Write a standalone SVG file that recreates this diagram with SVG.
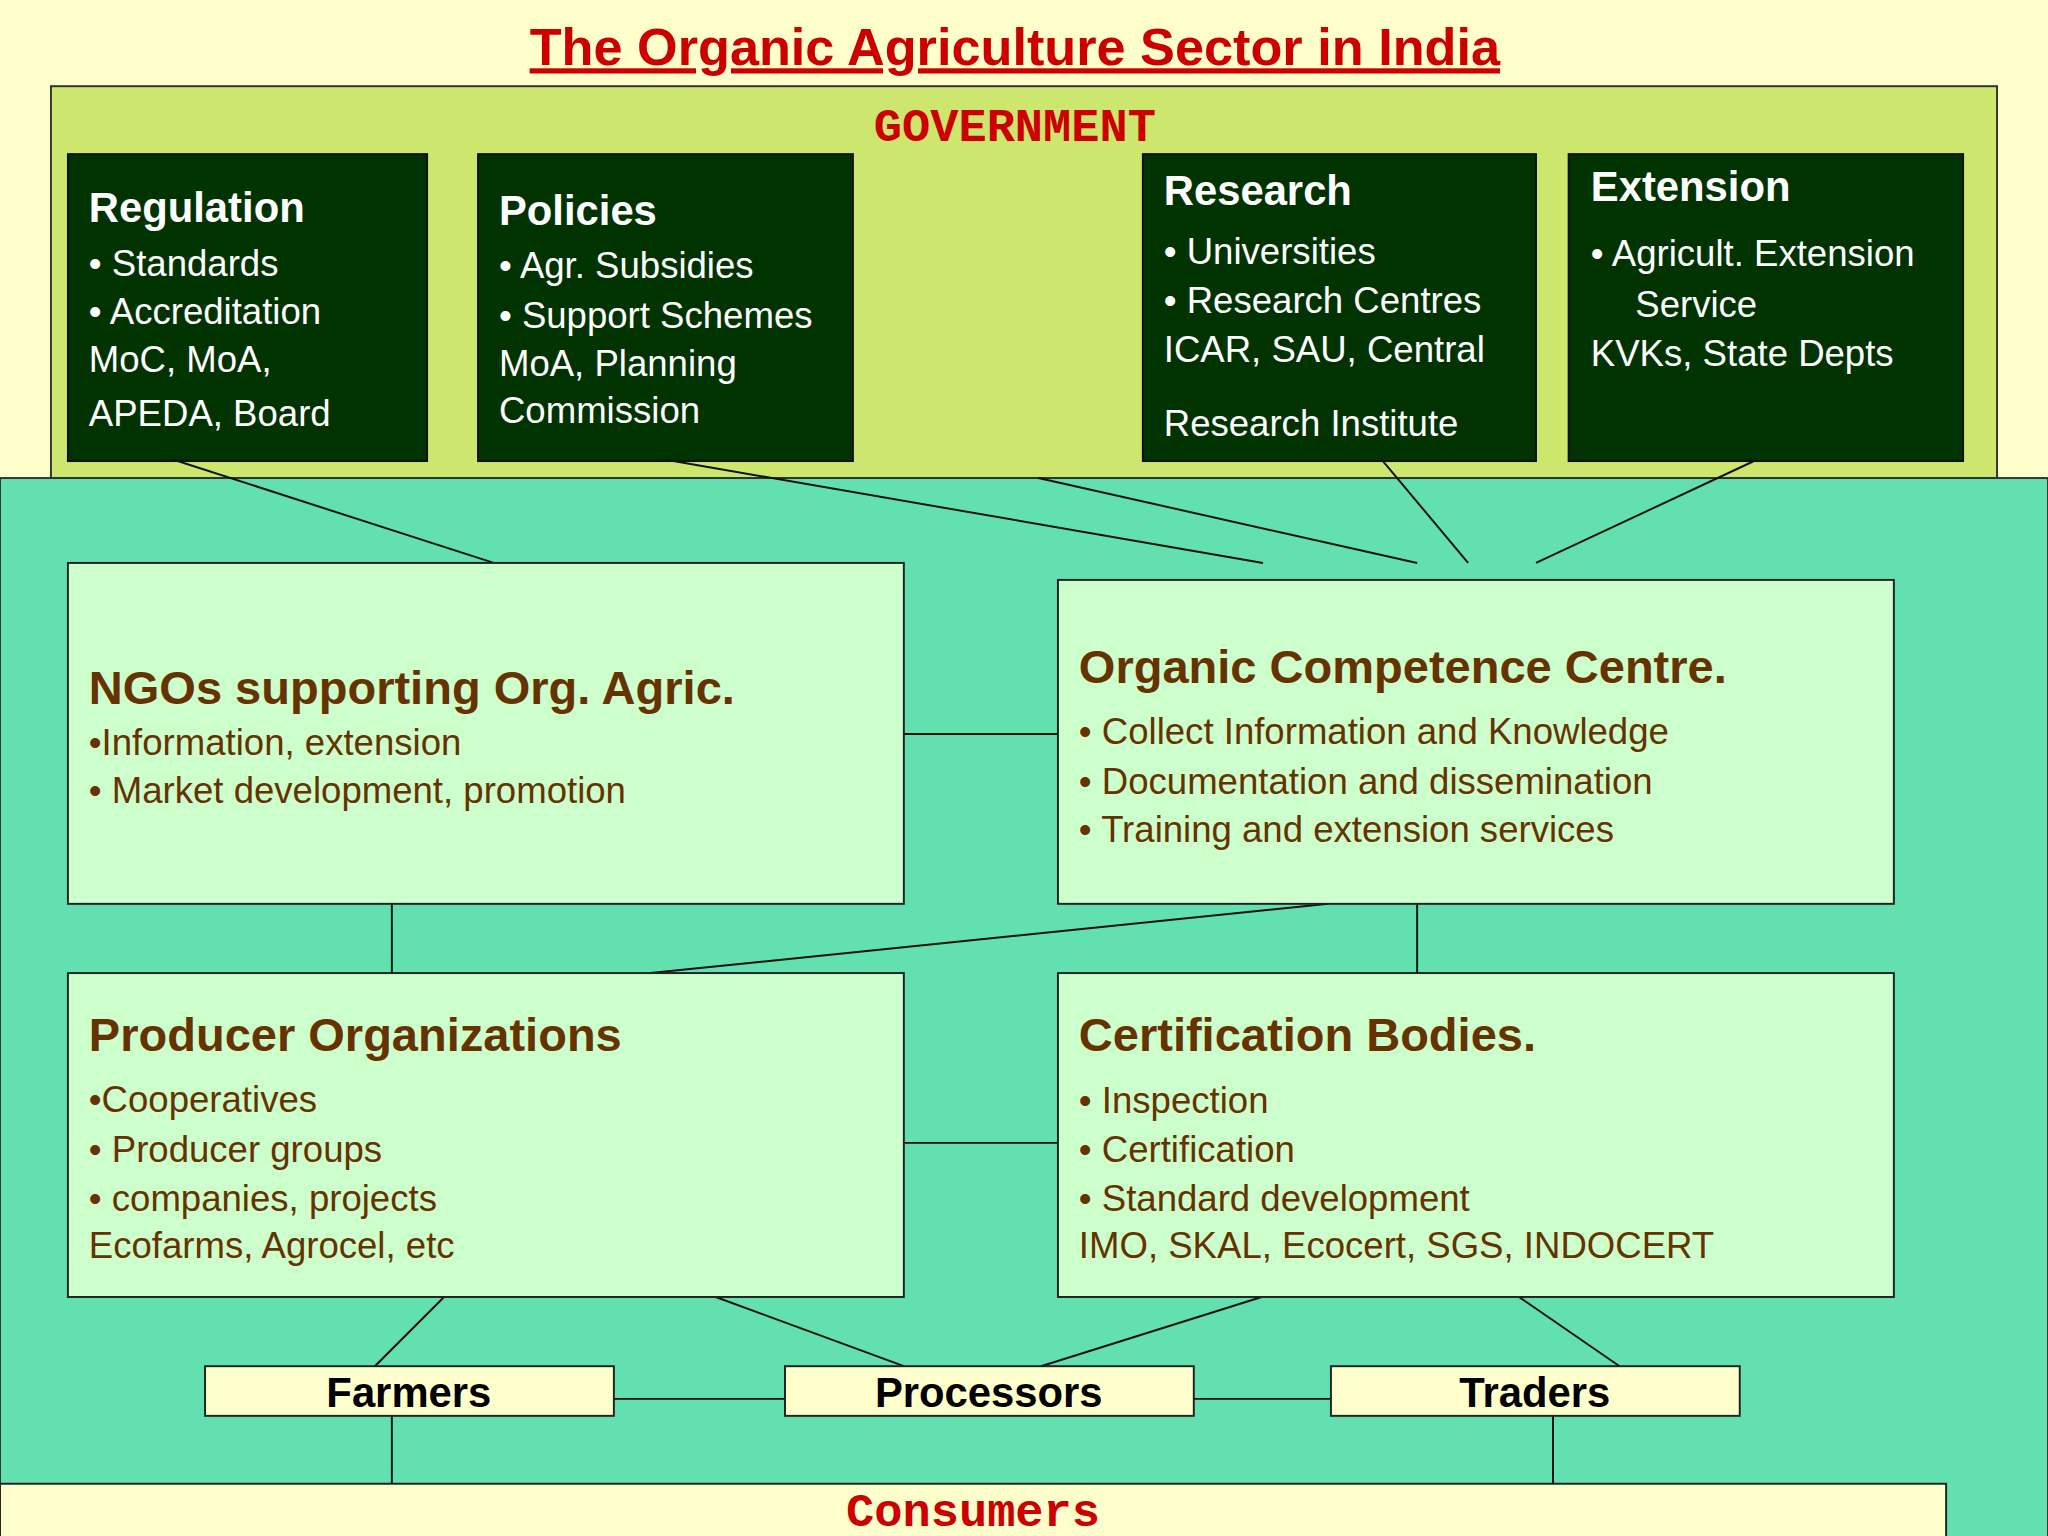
<svg xmlns="http://www.w3.org/2000/svg" width="2048" height="1536" viewBox="0 0 2048 1536">
<style>
.dk{fill:#003300;stroke:#111;stroke-width:1.5}
.lt{fill:#CCFFCC;stroke:#222;stroke-width:1.5}
.sm{fill:#FFFFCC;stroke:#222;stroke-width:1.5}
.wt{font-family:"Liberation Sans",Arial,sans-serif;fill:#fff;font-size:28px}
.wh{font-family:"Liberation Sans",Arial,sans-serif;fill:#fff;font-size:32px;font-weight:bold}
.bt{font-family:"Liberation Sans",Arial,sans-serif;fill:#663300;font-size:28px}
.bh{font-family:"Liberation Sans",Arial,sans-serif;fill:#663300;font-size:36px;font-weight:bold}
.kt{font-family:"Liberation Sans",Arial,sans-serif;fill:#000;font-size:32px;font-weight:bold;text-anchor:middle}
.rc{font-family:"Liberation Mono","Courier New",monospace;fill:#CC0000;font-size:36px;font-weight:bold;text-anchor:middle}
#conn line{stroke:#111;stroke-width:1.5}
</style>
<rect width="2048" height="1536" fill="#FFFFCC"/>
<g transform="scale(1.30612)">
<text x="777" y="50" font-family="Liberation Sans,Arial,sans-serif" font-size="40" font-weight="bold" fill="#CC0000" text-anchor="middle" text-decoration="underline">The Organic Agriculture Sector in India</text>
<g id="government"><rect x="39" y="66" width="1490" height="300" fill="#CCE66E" stroke="#333" stroke-width="1.5"/>
<text x="777" y="108" class="rc">GOVERNMENT</text></g>
<g id="sector"><rect x="0" y="366" width="1568" height="815" fill="#63E0B0" stroke="#333" stroke-width="1.5"/></g>
<g id="regulation"><rect class="dk" x="52" y="118" width="275" height="235"/>
<text class="wh" x="68" y="170">Regulation</text>
<text class="wt" x="68" y="211">• Standards</text><text class="wt" x="68" y="248">• Accreditation</text>
<text class="wt" x="68" y="285">MoC, MoA,</text><text class="wt" x="68" y="326">APEDA, Board</text></g>
<g id="policies"><rect class="dk" x="366" y="118" width="287" height="235"/>
<text class="wh" x="382" y="172">Policies</text>
<text class="wt" x="382" y="213">• Agr. Subsidies</text><text class="wt" x="382" y="251">• Support Schemes</text>
<text class="wt" x="382" y="288">MoA, Planning</text><text class="wt" x="382" y="324">Commission</text></g>
<g id="research"><rect class="dk" x="875" y="118" width="301" height="235"/>
<text class="wh" x="891" y="157">Research</text>
<text class="wt" x="891" y="202">• Universities</text><text class="wt" x="891" y="240">• Research Centres</text>
<text class="wt" x="891" y="277">ICAR, SAU, Central</text><text class="wt" x="891" y="334">Research Institute</text></g>
<g id="extension"><rect class="dk" x="1201" y="118" width="302" height="235"/>
<text class="wh" x="1218" y="154">Extension</text>
<text class="wt" x="1218" y="204">•  Agricult. Extension</text><text class="wt" x="1252" y="243">Service</text>
<text class="wt" x="1218" y="280">KVKs, State Depts</text></g>
<g id="conn">
<line x1="133" y1="352" x2="378" y2="431"/><line x1="510" y1="352" x2="967" y2="431"/>
<line x1="795" y1="366" x2="1085" y2="431"/><line x1="1058" y1="352" x2="1124" y2="431"/>
<line x1="1345" y1="352" x2="1176" y2="431"/><line x1="692" y1="562" x2="810" y2="562"/>
<line x1="300" y1="692" x2="300" y2="745"/><line x1="1017" y1="692" x2="498" y2="745"/>
<line x1="1085" y1="692" x2="1085" y2="745"/><line x1="692" y1="875" x2="810" y2="875"/>
<line x1="340" y1="993" x2="287" y2="1046"/><line x1="548" y1="993" x2="692" y2="1046"/>
<line x1="966" y1="993" x2="797" y2="1046"/><line x1="1163" y1="993" x2="1240" y2="1046"/>
<line x1="470" y1="1071" x2="601" y2="1071"/><line x1="914" y1="1071" x2="1019" y2="1071"/>
<line x1="300" y1="1084" x2="300" y2="1136"/><line x1="1189" y1="1084" x2="1189" y2="1136"/>
</g>
<g id="ngo"><rect class="lt" x="52" y="431" width="640" height="261"/>
<text class="bh" x="68" y="539">NGOs supporting Org. Agric.</text>
<text class="bt" x="68" y="578">•Information, extension</text><text class="bt" x="68" y="615">• Market development, promotion</text></g>
<g id="occ"><rect class="lt" x="810" y="444" width="640" height="248"/>
<text class="bh" x="826" y="523">Organic Competence Centre.</text>
<text class="bt" x="826" y="570">•  Collect Information and Knowledge</text>
<text class="bt" x="826" y="608">• Documentation and dissemination</text>
<text class="bt" x="826" y="645">• Training and extension services</text></g>
<g id="producer"><rect class="lt" x="52" y="745" width="640" height="248"/>
<text class="bh" x="68" y="805">Producer Organizations</text>
<text class="bt" x="68" y="851" font-size="36">•Cooperatives</text>
<text class="bt" x="68" y="890">• Producer groups</text><text class="bt" x="68" y="927">• companies, projects</text>
<text class="bt" x="68" y="963">Ecofarms, Agrocel, etc</text></g>
<g id="cert"><rect class="lt" x="810" y="745" width="640" height="248"/>
<text class="bh" x="826" y="805">Certification Bodies.</text>
<text class="bt" x="826" y="852">•  Inspection</text><text class="bt" x="826" y="890">• Certification</text>
<text class="bt" x="826" y="927">• Standard development</text>
<text class="bt" x="826" y="963">IMO, SKAL, Ecocert,  SGS, INDOCERT</text></g>
<g id="farmers"><rect class="sm" x="157" y="1046" width="313" height="38"/><text class="kt" x="313" y="1077">Farmers</text></g>
<g id="processors"><rect class="sm" x="601" y="1046" width="313" height="38"/><text class="kt" x="757" y="1077">Processors</text></g>
<g id="traders"><rect class="sm" x="1019" y="1046" width="313" height="38"/><text class="kt" x="1175" y="1077">Traders</text></g>
<g id="consumers"><rect class="sm" x="0" y="1136" width="1490" height="50"/><text class="rc" x="745" y="1168">Consumers</text></g>
</g>
</svg>
